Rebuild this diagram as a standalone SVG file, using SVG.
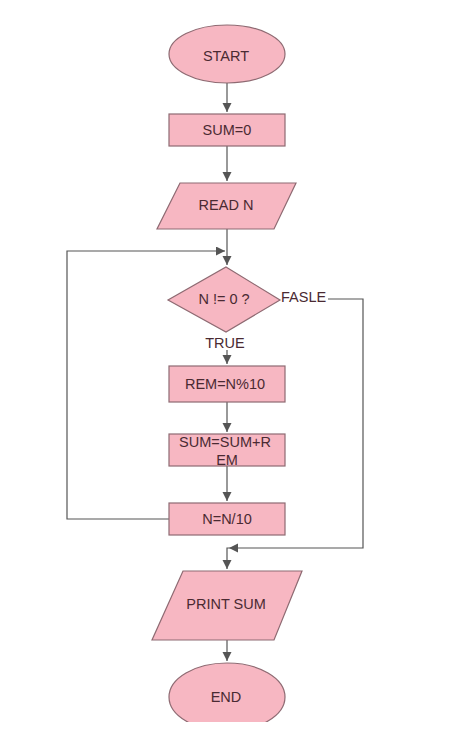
<svg xmlns="http://www.w3.org/2000/svg" width="474" height="756" viewBox="0 0 474 756">
<defs>
<marker id="ah" markerWidth="12" markerHeight="12" refX="9" refY="4.5" orient="auto" markerUnits="userSpaceOnUse">
<path d="M0,0 L9,4.5 L0,9 Z" fill="#555"/>
</marker>
<clipPath id="cut"><rect x="0" y="0" width="474" height="722"/></clipPath>
<style>
.s{fill:#f7b7c2;stroke:#8e6a72;stroke-width:1.2}
.t{font-family:"Liberation Sans",Arial,sans-serif;font-size:14.5px;fill:#4a2a32;text-anchor:middle}
.c{fill:none;stroke:#555;stroke-width:1.2}
</style>
</defs>
<rect width="474" height="756" fill="#fff"/>
<g id="connectors">
<path class="c" d="M227,83 V112" marker-end="url(#ah)"/>
<path class="c" d="M227,146 V181" marker-end="url(#ah)"/>
<path class="c" d="M227,229 V265" marker-end="url(#ah)"/>
<path class="c" d="M169,519 H67 V251 H225" marker-end="url(#ah)"/>
<path class="c" d="M227,350 V364" marker-end="url(#ah)"/>
<path class="c" d="M227,402 V432" marker-end="url(#ah)"/>
<path class="c" d="M227,466 V501" marker-end="url(#ah)"/>
<path class="c" d="M328,299 H363 V548 H229" marker-end="url(#ah)"/>
<path class="c" d="M229,548 H227 V569" marker-end="url(#ah)"/>
<path class="c" d="M227,640 V661" marker-end="url(#ah)"/>
<text class="t" x="281" y="302" style="text-anchor:start">FASLE</text>
<text class="t" x="225" y="348">TRUE</text>
</g>
<g id="start">
<ellipse class="s" cx="227" cy="54" rx="58" ry="29"/>
<text class="t" x="226" y="61">START</text>
</g>
<g id="sum0">
<rect class="s" x="169" y="114" width="116" height="32"/>
<text class="t" x="227" y="134.5">SUM=0</text>
</g>
<g id="readn">
<polygon class="s" points="180,183 296,183 274,229 157,229"/>
<text class="t" x="226" y="209.5">READ N</text>
</g>
<g id="cond">
<polygon class="s" points="226,267 280,300 226,332 168,300"/>
<text class="t" x="224" y="303.5">N != 0 ?</text>
</g>
<g id="rem">
<rect class="s" x="169" y="366" width="116" height="36"/>
<text class="t" x="225" y="389">REM=N%10</text>
</g>
<g id="sumadd">
<rect class="s" x="169" y="434" width="116" height="32"/>
<text class="t" x="225" y="447">SUM=SUM+R</text>
<text class="t" x="227" y="464.5">EM</text>
</g>
<g id="ndiv">
<rect class="s" x="169" y="503" width="116" height="32"/>
<text class="t" x="227" y="523.5">N=N/10</text>
</g>
<g id="print">
<polygon class="s" points="183,571 302,571 274,640 152,640"/>
<text class="t" x="226" y="609">PRINT SUM</text>
</g>
<g id="end" clip-path="url(#cut)">
<ellipse class="s" cx="227" cy="697" rx="58" ry="34"/>
<text class="t" x="226" y="702">END</text>
</g>
</svg>
